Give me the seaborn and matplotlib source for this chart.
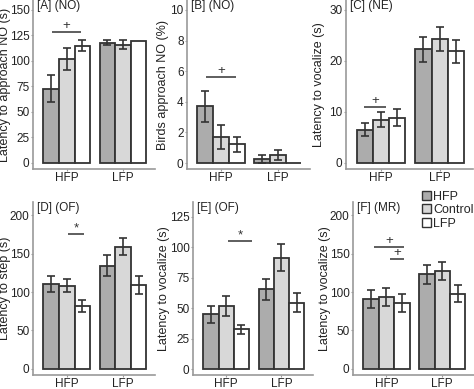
import matplotlib
matplotlib.use('Agg')
import matplotlib.pyplot as plt
from matplotlib.patches import Patch
import numpy as np
import pandas as pd
import seaborn as sns

# Data: bar means and error half-widths, order = group-major (HFP group, LFP group)
groups = ['HFP', 'LFP']
conditions = ['HFP', 'Control', 'LFP']
cond_colors = ['#acacac', '#d8d8d8', '#ffffff']

a_mean = [73, 102, 115, 118, 116, 120]
a_err = [13, 10.5, 5.5, 2.8, 4.3, np.nan]
b_mean = [3.71, 1.72, 1.22, 0.25, 0.5, 0.0]
b_err = [1.02, 0.78, 0.5, 0.25, 0.33, np.nan]
c_mean = [6.5, 8.5, 8.9, 22.3, 24.3, 21.9]
c_err = [1.3, 1.5, 1.7, 2.4, 2.4, 2.2]
d_mean = [110, 108, 82, 134, 159, 109]
d_err = [10.5, 8.3, 8.2, 13.5, 11.5, 11.5]
e_mean = [45, 51.5, 32.5, 65.5, 91.5, 54.5]
e_err = [7, 8.2, 4.1, 8.9, 11, 8]
f_mean = [91.5, 93.8, 86, 123, 127.5, 98]
f_err = [11.7, 11.9, 11.4, 12, 11.3, 11]

# label, ylabel, means, errs, yticks, ylim, axes rect (px), ylabel right edge (px), significance marks
panels = [
    dict(title='[A] (NO)', ylabel='Latency to approach NO (s)', mean=a_mean, err=a_err,
         yticks=[0, 25, 50, 75, 100, 125, 150], ylim=(-5.9, 159.8),
         rect=(33, 0, 155, 169), lab_x=11, sig=[(-0.26, 0.26, 128, '+')]),
    dict(title='[B] (NO)', ylabel='Birds approach NO (%)', mean=b_mean, err=b_err,
         yticks=[0, 2, 4, 6, 8, 10], ylim=(-0.39, 10.65),
         rect=(187, 0, 310, 169), lab_x=169, sig=[(-0.26, 0.26, 5.6, '+')]),
    dict(title='[C] (NE)', ylabel='Latency to vocalize (s)', mean=c_mean, err=c_err,
         yticks=[0, 10, 20, 30], ylim=(-1.18, 31.96),
         rect=(346, 0, 473, 169), lab_x=325, sig=[(-0.29, 0.08, 11.0, '+')]),
    dict(title='[D] (OF)', ylabel='Latency to step (s)', mean=d_mean, err=d_err,
         yticks=[0, 50, 100, 150, 200], ylim=(-7.8, 216.9),
         rect=(33, 202, 155, 375), lab_x=11, sig=[(0.03, 0.31, 175, '*')]),
    dict(title='[E] (OF)', ylabel='Latency to vocalize (s)', mean=e_mean, err=e_err,
         yticks=[0, 25, 50, 75, 100, 125], ylim=(-4.9, 137.3),
         rect=(193, 202, 313, 375), lab_x=170, sig=[(0.04, 0.47, 105, '*')]),
    dict(title='[F] (MR)', ylabel='Latency to vocalize (s)', mean=f_mean, err=f_err,
         yticks=[0, 50, 100, 150, 200], ylim=(-7.8, 216.9),
         rect=(353, 202, 474, 375), lab_x=331, sig=[(-0.22, 0.32, 158, '+'), (0.06, 0.32, 143, '+')]),
]

sns.set_theme(style='ticks', context='paper')
plt.rcParams['font.family'] = ['Liberation Sans', 'DejaVu Sans']
plt.rcParams['font.size'] = 8.5

W, H = 474, 389
fig = plt.figure(figsize=(W / 100, H / 100), dpi=100)
ink = '#333333'
axis_grey = '#9a9a9a'

for p in panels:
    x0, y0, x1, y1 = p['rect']
    ax = fig.add_axes([x0 / W, 1 - y1 / H, (x1 - x0) / W, (y1 - y0) / H])
    df = pd.DataFrame({
        'group': np.repeat(groups, 3),
        'condition': conditions * 2,
        'value': p['mean'],
    })
    sns.barplot(data=df, x='group', y='value', hue='condition', order=groups,
                hue_order=conditions, palette=cond_colors, edgecolor=ink,
                linewidth=1.3, width=0.83, errorbar=None, legend=False, ax=ax)

    # error bars at bar centres (patches sorted left to right = group-major order)
    bars = sorted(ax.patches, key=lambda r: r.get_x())
    xs = [r.get_x() + r.get_width() / 2 for r in bars]
    ax.errorbar(xs, p['mean'], yerr=p['err'], fmt='none', ecolor=ink,
                elinewidth=1.2, capsize=3, capthick=1.2, zorder=5)

    for sx0, sx1, sy, mark in p['sig']:
        ax.plot([sx0, sx1], [sy, sy], color=ink, lw=1.1, solid_capstyle='butt')
        ax.text((sx0 + sx1) / 2, sy, mark, ha='center', va='bottom',
                fontsize=9.5, color=ink)

    ax.set_xlim(-0.6, 1.57)
    ax.set_ylim(*p['ylim'])
    ax.set_yticks(p['yticks'])
    ax.set_xlabel('')
    ax.set_ylabel(p['ylabel'], fontsize=9, color='#222222')
    ax.yaxis.set_label_coords((p['lab_x'] - x0) / (x1 - x0), 0.5)
    ax.tick_params(axis='both', labelsize=8.5, length=1.5, width=0.8,
                   color=axis_grey, pad=1, labelcolor='#222222')
    sns.despine(ax=ax)
    for side in ['left', 'bottom']:
        ax.spines[side].set_color(axis_grey)
        ax.spines[side].set_linewidth(1.2)
    ax.text(0.03, 1.0, p['title'], transform=ax.transAxes, ha='left', va='top',
            fontsize=8.5, color='#222222')

handles = [Patch(facecolor=c, edgecolor=ink, linewidth=1.0) for c in cond_colors]
fig.legend(handles, conditions, loc='upper left',
           bbox_to_anchor=(422 / W, 1 - 191 / H), frameon=False, fontsize=9,
           handlelength=0.75, handleheight=0.75, handletextpad=0.15,
           labelspacing=0.1, borderpad=0, borderaxespad=0)

fig.savefig('out.png', dpi=100)
